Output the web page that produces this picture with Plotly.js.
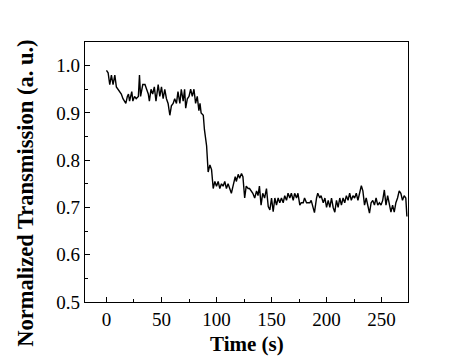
<!DOCTYPE html>
<html>
<head>
<meta charset="utf-8">
<script src="https://cdn.plot.ly/plotly-3.0.1.min.js"></script>
<style>html,body{margin:0;padding:0;background:#fff;}#chart{width:474px;height:362px;}</style>
</head>
<body>
<div id="chart"></div>
<script>
const timeS = [0,1.5,3,4.5,6,7.6,9,10.5,12,13.5,15,16.5,17.6,19,20,21,23,24,25.5,27,29,30,31,33,35,36.5,38,39,40.5,42,43.5,45,47,48.5,50,51.5,53,54.5,56,57.6,59,60.6,62,63.6,65,66.7,68,69.7,71,72,73.5,75,76.5,78,79.5,81,82.5,84,85,86,88,89,91,92.4,94,95.5,97,98.5,100,101.5,103,104.5,106,107.5,109,110.5,112,113.5,115,117,118,119.7,121,122.7,124,125.6,127,128.7,130,131.7,133,134.7,136.4,137.7,139,140.5,142,143.7,145.4,147,148.5,150,151.5,153,154.5,156,157.5,159,160.6,162,163.6,165,166.6,168,169.7,171,172.7,174,175.7,177,178.8,180,181.8,183,184.8,186,187.9,189,190.9,192,193.9,195,197,198.5,200,201.5,203,204.5,206,207.5,209,210.5,212,213.5,215,216.5,218,219.5,221,222.5,224,225.5,227,228.5,230,231.6,233,234.5,236,237.5,239,240.5,242,243.5,245,246.5,248,249.5,251,252.5,254,255.5,257,258.5,260,261.5,263,264.5,266,267.5,269,270.5,272,273];
const transmission = [0.99,0.985,0.96,0.98,0.96,0.98,0.955,0.95,0.945,0.94,0.93,0.925,0.92,0.935,0.94,0.925,0.945,0.925,0.935,0.93,0.935,0.98,0.935,0.96,0.96,0.95,0.94,0.925,0.95,0.94,0.955,0.925,0.96,0.935,0.955,0.93,0.95,0.93,0.92,0.895,0.915,0.92,0.93,0.92,0.945,0.92,0.95,0.925,0.95,0.91,0.93,0.935,0.95,0.935,0.95,0.92,0.935,0.905,0.92,0.9,0.895,0.865,0.83,0.775,0.79,0.78,0.74,0.755,0.745,0.755,0.74,0.75,0.745,0.755,0.74,0.75,0.74,0.73,0.745,0.765,0.755,0.77,0.762,0.772,0.765,0.72,0.745,0.74,0.74,0.735,0.73,0.72,0.735,0.725,0.745,0.705,0.73,0.72,0.74,0.702,0.695,0.72,0.691,0.72,0.705,0.72,0.71,0.72,0.71,0.725,0.715,0.73,0.72,0.73,0.715,0.73,0.72,0.73,0.705,0.71,0.71,0.72,0.71,0.71,0.71,0.715,0.7,0.689,0.72,0.73,0.72,0.725,0.71,0.72,0.7,0.715,0.7,0.72,0.7,0.69,0.715,0.7,0.72,0.705,0.72,0.71,0.725,0.715,0.73,0.715,0.725,0.72,0.73,0.715,0.73,0.746,0.735,0.705,0.72,0.705,0.688,0.71,0.715,0.705,0.72,0.705,0.71,0.705,0.715,0.737,0.705,0.725,0.71,0.69,0.705,0.69,0.71,0.72,0.735,0.73,0.715,0.725,0.72,0.681];
const xTitle = 'Time (s)';
const yTitle = 'Normalized Transmission (a. u.)';

const trace = {
  x: timeS, y: transmission, type: 'scatter', mode: 'lines',
  line: {color: '#000', width: 1.4}, hoverinfo: 'none'
};
const font = {family: '"Liberation Serif", "Times New Roman", serif', color: '#000'};
const layout = {
  width: 474, height: 362,
  margin: {l: 85, r: 66, t: 42, b: 60},
  paper_bgcolor: '#fff', plot_bgcolor: '#fff',
  showlegend: false,
  font: Object.assign({size: 19}, font),
  xaxis: {
    range: [-19.5, 274], showgrid: false, zeroline: false,
    showline: true, linecolor: '#000', linewidth: 1.2, mirror: true,
    ticks: 'inside', ticklen: 5, tickwidth: 1, tickcolor: '#000',
    tick0: 0, dtick: 50,
    minor: {ticks: 'inside', ticklen: 3, tickwidth: 1, tickcolor: '#000', dtick: 25, tick0: 0, showgrid: false},
    tickfont: Object.assign({size: 19}, font)
  },
  yaxis: {
    range: [0.5, 1.05], showgrid: false, zeroline: false,
    showline: true, linecolor: '#000', linewidth: 1.2, mirror: true,
    ticks: 'inside', ticklen: 5, tickwidth: 1, tickcolor: '#000',
    tick0: 0.5, dtick: 0.1, tickformat: '.1f',
    minor: {ticks: 'inside', ticklen: 3, tickwidth: 1, tickcolor: '#000', dtick: 0.05, tick0: 0.5, showgrid: false},
    tickfont: Object.assign({size: 19}, font)
  },
  annotations: [
    {text: '<b>' + xTitle + '</b>', xref: 'paper', yref: 'paper', x: 0.5, y: -0.16,
     xanchor: 'center', yanchor: 'middle', showarrow: false, font: Object.assign({size: 21}, font)},
    {text: '<b>' + yTitle + '</b>', xref: 'paper', yref: 'paper', x: -0.183, y: 0.42,
     xanchor: 'center', yanchor: 'middle', textangle: -90, showarrow: false, font: Object.assign({size: 22.5}, font)}
  ]
};
Plotly.newPlot('chart', [trace], layout, {staticPlot: true, displayModeBar: false});
</script>
</body>
</html>
